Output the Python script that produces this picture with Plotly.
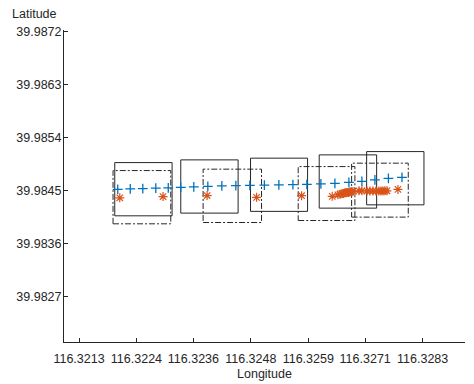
import plotly.graph_objects as go

# ---- data ----
track_lon = [116.322089, 116.322344, 116.322599, 116.322864, 116.323118, 116.323373,
             116.323638, 116.323924, 116.324209, 116.324495, 116.324780, 116.325076,
             116.325371, 116.325657, 116.325942, 116.326227, 116.326513, 116.326798,
             116.327063, 116.327328, 116.327603, 116.327879]
track_lat = [39.984520, 39.984529, 39.984534, 39.984541, 39.984546, 39.984554,
             39.984563, 39.984571, 39.984580, 39.984583, 39.984588, 39.984594,
             39.984597, 39.984600, 39.984605, 39.984614, 39.984622, 39.984639,
             39.984656, 39.984682, 39.984707, 39.984724]

obs_lon = [116.322130, 116.323012, 116.323909, 116.324917, 116.325834, 116.326458,
           116.326574, 116.326615, 116.326655, 116.326686, 116.326717, 116.326737,
           116.326757, 116.326778, 116.326798, 116.326819, 116.326849, 116.326880,
           116.327002, 116.327063, 116.327165, 116.327226, 116.327287, 116.327349,
           116.327410, 116.327451, 116.327491, 116.327532, 116.327573, 116.327797]
obs_lat = [39.984376, 39.984398, 39.984415, 39.984384, 39.984413, 39.984401,
           39.984427, 39.984435, 39.984444, 39.984452, 39.984461, 39.984461,
           39.984469, 39.984469, 39.984469, 39.984478, 39.984478, 39.984486,
           39.984495, 39.984495, 39.984492, 39.984492, 39.984492, 39.984492,
           39.984492, 39.984492, 39.984492, 39.984495, 39.984495, 39.984520]

# solid boxes: lon min/max, lat min/max
solid_lon_min = [116.322028, 116.323373, 116.324794, 116.326193, 116.327159]
solid_lon_max = [116.323196, 116.324541, 116.325956, 116.327363, 116.328327]
solid_lat_min = [39.984070, 39.984116, 39.984146, 39.984201, 39.984257]
solid_lat_max = [39.984976, 39.985022, 39.985051, 39.985107, 39.985163]

# dash-dot boxes
dd_lon_min = [116.321993, 116.323828, 116.325765, 116.326853]
dd_lon_max = [116.323169, 116.325018, 116.326920, 116.328007]
dd_lat_min = [39.983934, 39.983956, 39.983990, 39.984048]
dd_lat_max = [39.984840, 39.984864, 39.984908, 39.984966]

x_tick_vals = [116.3213, 116.32247, 116.32363, 116.3248, 116.32597, 116.32713, 116.3283]
x_tick_text = ["116.3213", "116.3224", "116.3236", "116.3248", "116.3259", "116.3271", "116.3283"]
y_tick_vals = [39.9827, 39.9836, 39.9845, 39.9854, 39.9863, 39.9872]
y_tick_text = ["39.9827", "39.9836", "39.9845", "39.9854", "39.9863", "39.9872"]

INK = "#262626"
FONT = "Liberation Sans, Arial, Helvetica, sans-serif"
FS = 12.5


def box_path(x0s, x1s, y0s, y1s):
    xs, ys = [], []
    for x0, x1, y0, y1 in zip(x0s, x1s, y0s, y1s):
        xs += [x0, x1, x1, x0, x0, None]
        ys += [y0, y0, y1, y1, y0, None]
    return xs, ys


fig = go.Figure()

sx, sy = box_path(solid_lon_min, solid_lon_max, solid_lat_min, solid_lat_max)
fig.add_trace(go.Scatter(x=sx, y=sy, mode="lines",
                         line=dict(color=INK, width=1), hoverinfo="skip"))

dx, dy = box_path(dd_lon_min, dd_lon_max, dd_lat_min, dd_lat_max)
fig.add_trace(go.Scatter(x=dx, y=dy, mode="lines",
                         line=dict(color=INK, width=1, dash="6px,2px,2px,2px"),
                         hoverinfo="skip"))

fig.add_trace(go.Scatter(x=track_lon, y=track_lat, mode="markers",
                         marker=dict(symbol="cross-thin", size=7, color="#0072BD",
                                     line=dict(color="#0072BD", width=1.3))))

fig.add_trace(go.Scatter(x=obs_lon, y=obs_lat, mode="markers",
                         marker=dict(symbol="asterisk", size=7.5, color="#D95319",
                                     line=dict(color="#D95319", width=1.2))))

fig.update_layout(
    width=474, height=384,
    margin=dict(l=64, r=9, t=30, b=42, autoexpand=False),
    plot_bgcolor="white", paper_bgcolor="white",
    showlegend=False,
    font=dict(family=FONT, size=FS, color=INK),
    xaxis=dict(range=[116.320994, 116.329163], showgrid=False, zeroline=False,
               showline=True, linecolor=INK, linewidth=1, automargin=False,
               ticks="inside", ticklen=4, tickcolor=INK, ticklabelstandoff=5,
               tickvals=x_tick_vals, ticktext=x_tick_text,
               title=dict(text="Longitude", standoff=4, font=dict(size=FS))),
    yaxis=dict(range=[39.981923, 39.987232], showgrid=False, zeroline=False,
               showline=True, linecolor=INK, linewidth=1, automargin=False,
               ticks="inside", ticklen=4, tickcolor=INK, ticklabelstandoff=-1,
               tickvals=y_tick_vals, ticktext=y_tick_text),
    annotations=[dict(text="Latitude", xref="paper", yref="paper",
                      x=0, y=1, xshift=-30, yshift=16,
                      xanchor="center", yanchor="middle",
                      showarrow=False, font=dict(size=FS, color=INK))],
)

fig.write_html("out.html", config={"displayModeBar": False},
               post_script="document.body.style.margin='0';document.body.style.overflow='hidden';")
